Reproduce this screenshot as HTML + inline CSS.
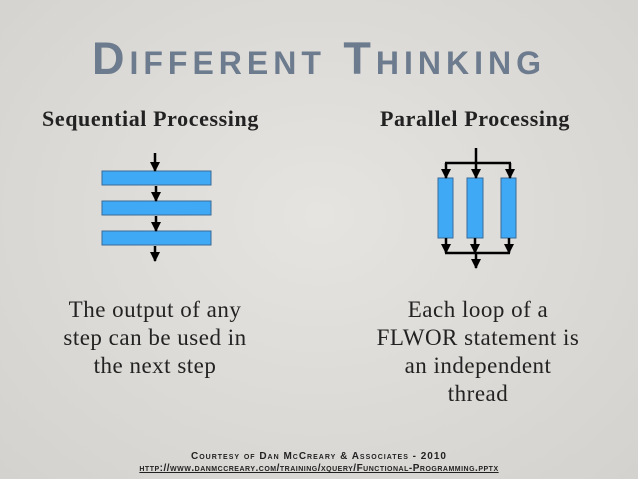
<!DOCTYPE html>
<html><head><style>
body{margin:0;width:638px;height:479px;overflow:hidden;background:#dcdad6;font-family:"Liberation Serif",serif;position:relative}
.t{position:absolute;white-space:nowrap}
</style></head><body>
<div style="position:absolute;inset:0;background:radial-gradient(ellipse at 50% 45%,#e6e4e0,#d4d2ce)"></div>
<div class="t" style="left:0;width:638px;top:33px;text-align:center;font-size:45px;font-weight:bold;color:#6d7b8e;font-variant:small-caps;letter-spacing:5px;font-family:'Liberation Sans',sans-serif">Different Thinking</div>
<div class="t" style="left:42px;top:106px;font-size:22px;font-weight:bold;color:#222;letter-spacing:0.6px">Sequential Processing</div>
<div class="t" style="left:380px;top:106px;font-size:22px;font-weight:bold;color:#222;letter-spacing:0.6px">Parallel Processing</div>
<svg width="638" height="479" style="position:absolute;left:0;top:0">
<defs><marker id="a" viewBox="0 0 10 10" refX="9" refY="5" markerWidth="4" markerHeight="4" orient="auto"><path d="M0,0L10,5L0,10z" fill="#000"/></marker></defs>
<g fill="#3fa9f5" stroke="#3a6a96" stroke-width="1">
<rect x="102" y="171" width="109" height="14"/><rect x="102" y="201" width="109" height="14"/><rect x="102" y="231" width="109" height="14"/>
<rect x="438" y="178" width="15" height="60"/><rect x="467" y="178" width="16" height="60"/><rect x="501" y="178" width="15" height="60"/>
</g>
<g stroke="#000" stroke-width="2.5" fill="none" marker-end="url(#a)">
<line x1="155" y1="153" x2="155" y2="171"/><line x1="156" y1="186" x2="156" y2="201"/><line x1="156" y1="216" x2="156" y2="231"/><line x1="155" y1="246" x2="155" y2="261"/>
<line x1="476" y1="148" x2="476" y2="178"/><line x1="446" y1="163" x2="446" y2="178"/><line x1="510" y1="163" x2="510" y2="178"/>
<line x1="446" y1="238" x2="446" y2="253"/><line x1="475" y1="238" x2="475" y2="253"/><line x1="509" y1="238" x2="509" y2="253"/>
<line x1="476" y1="253" x2="476" y2="268"/>
</g>
<g stroke="#000" stroke-width="2.5"><line x1="445" y1="163" x2="511" y2="163"/><line x1="445" y1="253" x2="510" y2="253"/></g>
</svg>
<div class="t" style="left:30px;width:250px;top:296px;text-align:center;font-size:23px;line-height:28px;color:#222;letter-spacing:0.5px">The output of any<br>step can be used in<br>the next step</div>
<div class="t" style="left:353px;width:250px;top:296px;text-align:center;font-size:23px;line-height:28px;color:#222;letter-spacing:0.5px">Each loop of a<br>FLWOR statement is<br>an independent<br>thread</div>
<div class="t" style="left:0;width:638px;top:451px;text-align:center;font-size:10px;font-weight:bold;color:#222;font-variant:small-caps;font-family:'Liberation Sans',sans-serif;letter-spacing:1px">Courtesy of Dan McCreary &amp; Associates - 2010</div>
<div class="t" style="left:0;width:638px;top:463px;text-align:center;font-size:10px;font-weight:bold;color:#222;font-variant:small-caps;font-family:'Liberation Sans',sans-serif;text-decoration:underline;letter-spacing:0.5px">http://www.danmccreary.com/training/xquery/Functional-Programming.pptx</div>
</body></html>
